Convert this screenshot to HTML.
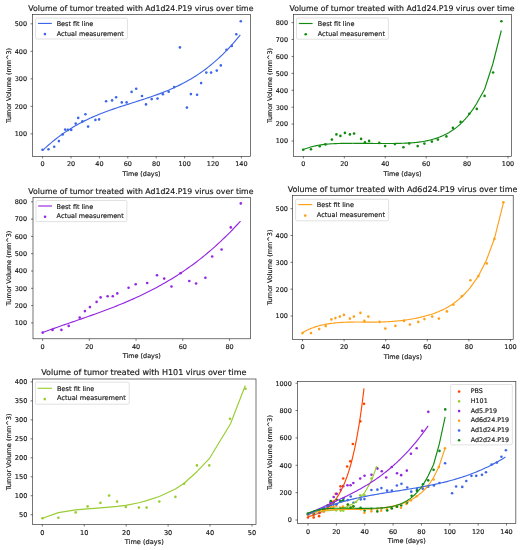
<!DOCTYPE html>
<html lang="en"><head><meta charset="utf-8"><title>Tumor volume over time</title>
<style>html,body{margin:0;padding:0;background:#fff}svg{display:block}text{text-rendering:geometricPrecision;stroke:#1a1a1a;stroke-width:0.17px}</style>
</head><body>
<svg width="521" height="550" viewBox="0 0 521 550" font-family='"DejaVu Sans", "Liberation Sans", sans-serif'>
<rect width="521" height="550" fill="#fff"/>
<rect x="32.5" y="14.5" width="218" height="141.95" fill="#fff" stroke="none"/>
<path d="M42.6,156.45 v1.95 M71,156.45 v1.95 M99.4,156.45 v1.95 M127.8,156.45 v1.95 M156.2,156.45 v1.95 M184.6,156.45 v1.95 M213,156.45 v1.95 M241.4,156.45 v1.95 M32.5,133.9 h-1.95 M32.5,106.38 h-1.95 M32.5,78.86 h-1.95 M32.5,51.34 h-1.95 M32.5,23.82 h-1.95" stroke="#1a1a1a" stroke-width="0.6" fill="none"/>
<g font-size="6.45" fill="#1a1a1a" text-anchor="middle">
<text x="42.6" y="165.8">0</text>
<text x="71" y="165.8">20</text>
<text x="99.4" y="165.8">40</text>
<text x="127.8" y="165.8">60</text>
<text x="156.2" y="165.8">80</text>
<text x="184.6" y="165.8">100</text>
<text x="213" y="165.8">120</text>
<text x="241.4" y="165.8">140</text>
</g>
<g font-size="6.45" fill="#1a1a1a" text-anchor="end">
<text x="27" y="136.25">100</text>
<text x="27" y="108.73">200</text>
<text x="27" y="81.21">300</text>
<text x="27" y="53.69">400</text>
<text x="27" y="26.17">500</text>
</g>
<text x="141.5" y="175.6" font-size="6.45" fill="#1a1a1a" text-anchor="middle">Time (days)</text>
<text transform="translate(11.3,85.47) rotate(-90)" font-size="6.45" fill="#1a1a1a" text-anchor="middle">Tumor Volume (mm^3)</text>
<text x="140.9" y="10.7" font-size="7.78" fill="#1a1a1a" text-anchor="middle">Volume of tumor treated with Ad1d24.P19 virus over time</text>
<g fill="#3d67e6">
<circle cx="42.5" cy="149.8" r="1.3"/>
<circle cx="48.5" cy="149.3" r="1.3"/>
<circle cx="54.2" cy="146.8" r="1.3"/>
<circle cx="58.9" cy="141.1" r="1.3"/>
<circle cx="62.7" cy="134.4" r="1.3"/>
<circle cx="65.2" cy="129.6" r="1.3"/>
<circle cx="67.9" cy="129.9" r="1.3"/>
<circle cx="71.2" cy="129.9" r="1.3"/>
<circle cx="75.7" cy="123.6" r="1.3"/>
<circle cx="78.2" cy="117.9" r="1.3"/>
<circle cx="82.4" cy="121.4" r="1.3"/>
<circle cx="85.4" cy="114.2" r="1.3"/>
<circle cx="88.1" cy="126.6" r="1.3"/>
<circle cx="95.4" cy="119.9" r="1.3"/>
<circle cx="99.1" cy="119.4" r="1.3"/>
<circle cx="106.1" cy="101.2" r="1.3"/>
<circle cx="112.1" cy="100.4" r="1.3"/>
<circle cx="116.1" cy="97.2" r="1.3"/>
<circle cx="121.8" cy="102.4" r="1.3"/>
<circle cx="126.6" cy="102.4" r="1.3"/>
<circle cx="131.6" cy="91.9" r="1.3"/>
<circle cx="136.2" cy="88.7" r="1.3"/>
<circle cx="142" cy="96" r="1.3"/>
<circle cx="146" cy="104.4" r="1.3"/>
<circle cx="151.7" cy="99.1" r="1.3"/>
<circle cx="157.5" cy="98.6" r="1.3"/>
<circle cx="162.9" cy="94.3" r="1.3"/>
<circle cx="168.7" cy="91.8" r="1.3"/>
<circle cx="174.2" cy="87.1" r="1.3"/>
<circle cx="179.9" cy="47.4" r="1.3"/>
<circle cx="186.9" cy="107.6" r="1.3"/>
<circle cx="190.9" cy="94.1" r="1.3"/>
<circle cx="197.1" cy="94.8" r="1.3"/>
<circle cx="201.1" cy="83.1" r="1.3"/>
<circle cx="206.3" cy="72.6" r="1.3"/>
<circle cx="211.1" cy="72.6" r="1.3"/>
<circle cx="216.8" cy="70.6" r="1.3"/>
<circle cx="220.8" cy="65.4" r="1.3"/>
<circle cx="226.5" cy="49.7" r="1.3"/>
<circle cx="231.8" cy="45.9" r="1.3"/>
<circle cx="236.3" cy="34.2" r="1.3"/>
<circle cx="240.8" cy="21.2" r="1.3"/>
</g>
<path d="M42.5,150.57 L44.5,148.67 L46.5,146.83 L48.5,145.05 L50.5,143.32 L52.5,141.64 L54.5,140.01 L56.5,138.43 L58.5,136.9 L60.5,135.42 L62.5,133.99 L64.5,132.6 L66.5,131.25 L68.5,129.95 L70.5,128.68 L72.5,127.46 L74.5,126.28 L76.5,125.13 L78.5,124.02 L80.5,122.94 L82.5,121.89 L84.5,120.88 L86.5,119.9 L88.5,118.95 L90.5,118.02 L92.5,117.13 L94.5,116.25 L96.5,115.41 L98.5,114.58 L100.5,113.78 L102.5,113 L104.5,112.23 L106.5,111.49 L108.5,110.76 L110.5,110.04 L112.5,109.34 L114.5,108.66 L116.5,107.98 L118.5,107.31 L120.5,106.66 L122.5,106.01 L124.5,105.36 L126.5,104.72 L128.5,104.09 L130.5,103.46 L132.5,102.82 L134.5,102.19 L136.5,101.56 L138.5,100.92 L140.5,100.28 L142.5,99.64 L144.5,98.98 L146.5,98.32 L148.5,97.65 L150.5,96.97 L152.5,96.28 L154.5,95.58 L156.5,94.86 L158.5,94.12 L160.5,93.37 L162.5,92.6 L164.5,91.81 L166.5,91 L168.5,90.16 L170.5,89.31 L172.5,88.43 L174.5,87.52 L176.5,86.59 L178.5,85.62 L180.5,84.63 L182.5,83.61 L184.5,82.55 L186.5,81.46 L188.5,80.33 L190.5,79.17 L192.5,77.97 L194.5,76.74 L196.5,75.46 L198.5,74.14 L200.5,72.78 L202.5,71.37 L204.5,69.92 L206.5,68.42 L208.5,66.87 L210.5,65.28 L212.5,63.63 L214.5,61.93 L216.5,60.18 L218.5,58.38 L220.5,56.52 L222.5,54.6 L224.5,52.63 L226.5,50.59 L228.5,48.49 L230.5,46.34 L232.5,44.11 L234.5,41.83 L236.5,39.48 L238.5,37.06 L240.3,34.82" fill="none" stroke="#3d67e6" stroke-width="1.15" stroke-linejoin="round" stroke-linecap="butt"/>
<rect x="32.5" y="14.5" width="218" height="141.95" fill="none" stroke="#1a1a1a" stroke-width="0.6"/>
<rect x="35.6" y="18.1" width="91.8" height="20.9" rx="1.3" fill="#fff" fill-opacity="0.8" stroke="#ccc" stroke-width="0.6"/>
<path d="M38,23.45 H51.8" stroke="#3d67e6" stroke-width="1.15" fill="none"/>
<circle cx="44.9" cy="34.1" r="1.3" fill="#3d67e6"/>
<text x="56.7" y="26.1" font-size="6.45" fill="#1a1a1a">Best fit line</text>
<text x="56.7" y="35.65" font-size="6.45" fill="#1a1a1a">Actual measurement</text>
<rect x="293.5" y="14.5" width="218" height="141.95" fill="#fff" stroke="none"/>
<path d="M303.4,156.45 v1.95 M344.32,156.45 v1.95 M385.24,156.45 v1.95 M426.16,156.45 v1.95 M467.08,156.45 v1.95 M508,156.45 v1.95 M293.5,141 h-1.95 M293.5,124.09 h-1.95 M293.5,107.18 h-1.95 M293.5,90.27 h-1.95 M293.5,73.36 h-1.95 M293.5,56.45 h-1.95 M293.5,39.54 h-1.95 M293.5,22.63 h-1.95" stroke="#1a1a1a" stroke-width="0.6" fill="none"/>
<g font-size="6.45" fill="#1a1a1a" text-anchor="middle">
<text x="303.4" y="165.9">0</text>
<text x="344.32" y="165.9">20</text>
<text x="385.24" y="165.9">40</text>
<text x="426.16" y="165.9">60</text>
<text x="467.08" y="165.9">80</text>
<text x="508" y="165.9">100</text>
</g>
<g font-size="6.45" fill="#1a1a1a" text-anchor="end">
<text x="288" y="143.35">100</text>
<text x="288" y="126.44">200</text>
<text x="288" y="109.53">300</text>
<text x="288" y="92.62">400</text>
<text x="288" y="75.71">500</text>
<text x="288" y="58.8">600</text>
<text x="288" y="41.89">700</text>
<text x="288" y="24.98">800</text>
</g>
<text x="402.5" y="175.5" font-size="6.45" fill="#1a1a1a" text-anchor="middle">Time (days)</text>
<text transform="translate(272.3,85.47) rotate(-90)" font-size="6.45" fill="#1a1a1a" text-anchor="middle">Tumor Volume (mm^3)</text>
<text x="402" y="10.7" font-size="7.78" fill="#1a1a1a" text-anchor="middle">Volume of tumor treated with Ad1d24.P19 virus over time</text>
<g fill="#128a12">
<circle cx="303.2" cy="149.8" r="1.3"/>
<circle cx="311" cy="149.3" r="1.3"/>
<circle cx="319.7" cy="146.3" r="1.3"/>
<circle cx="325.4" cy="144.4" r="1.3"/>
<circle cx="331.9" cy="139.6" r="1.3"/>
<circle cx="336.4" cy="134.4" r="1.3"/>
<circle cx="340.4" cy="135.9" r="1.3"/>
<circle cx="344.9" cy="132.9" r="1.3"/>
<circle cx="349.9" cy="134.4" r="1.3"/>
<circle cx="354.1" cy="133.6" r="1.3"/>
<circle cx="361.1" cy="138.9" r="1.3"/>
<circle cx="364.9" cy="142.4" r="1.3"/>
<circle cx="369.1" cy="140.9" r="1.3"/>
<circle cx="379.3" cy="142.9" r="1.3"/>
<circle cx="385.1" cy="146.1" r="1.3"/>
<circle cx="394.9" cy="144.1" r="1.3"/>
<circle cx="403.4" cy="147.3" r="1.3"/>
<circle cx="409.2" cy="143.4" r="1.3"/>
<circle cx="417.7" cy="146.1" r="1.3"/>
<circle cx="424.4" cy="143.6" r="1.3"/>
<circle cx="431.9" cy="141.6" r="1.3"/>
<circle cx="437.9" cy="139.6" r="1.3"/>
<circle cx="446.4" cy="136.4" r="1.3"/>
<circle cx="452.9" cy="127.9" r="1.3"/>
<circle cx="460.6" cy="121.9" r="1.3"/>
<circle cx="469.3" cy="113.7" r="1.3"/>
<circle cx="476.8" cy="108.9" r="1.3"/>
<circle cx="484.6" cy="95.9" r="1.3"/>
<circle cx="493.1" cy="72.5" r="1.3"/>
<circle cx="501.4" cy="21.2" r="1.3"/>
</g>
<path d="M303.2,149.6 L304.7,149.01 L306.2,148.46 L307.7,147.94 L309.2,147.47 L310.7,147.03 L312.2,146.62 L313.7,146.25 L315.2,145.91 L316.7,145.6 L318.2,145.31 L319.7,145.05 L321.2,144.82 L322.7,144.61 L324.2,144.43 L325.7,144.26 L327.2,144.12 L328.7,143.99 L330.2,143.88 L331.7,143.78 L333.2,143.7 L334.7,143.63 L336.2,143.57 L337.7,143.52 L339.2,143.48 L340.7,143.44 L342.2,143.41 L343.7,143.38 L345.2,143.36 L346.7,143.34 L348.2,143.32 L349.7,143.31 L351.2,143.31 L352.7,143.3 L354.2,143.3 L355.7,143.31 L357.2,143.31 L358.7,143.32 L360.2,143.33 L361.7,143.34 L363.2,143.35 L364.7,143.37 L366.2,143.38 L367.7,143.4 L369.2,143.41 L370.7,143.43 L372.2,143.44 L373.7,143.46 L375.2,143.47 L376.7,143.48 L378.2,143.5 L379.7,143.51 L381.2,143.51 L382.7,143.52 L384.2,143.53 L385.7,143.53 L387.2,143.53 L388.7,143.52 L390.2,143.51 L391.7,143.5 L393.2,143.48 L394.7,143.46 L396.2,143.44 L397.7,143.41 L399.2,143.38 L400.7,143.34 L402.2,143.29 L403.7,143.24 L405.2,143.18 L406.7,143.12 L408.2,143.04 L409.7,142.95 L411.2,142.85 L412.7,142.74 L414.2,142.62 L415.7,142.47 L417.2,142.31 L418.7,142.14 L420.2,141.94 L421.7,141.72 L423.2,141.48 L424.7,141.21 L426.2,140.92 L427.7,140.61 L429.2,140.27 L430.7,139.9 L432.2,139.49 L433.7,139.06 L435.2,138.6 L436.7,138.1 L438.2,137.57 L439.7,137 L441.2,136.39 L442.7,135.74 L444.2,135.05 L445.7,134.32 L447.2,133.53 L448.7,132.69 L450.2,131.8 L451.7,130.84 L453.2,129.83 L454.7,128.75 L456.2,127.6 L457.7,126.38 L459.2,125.08 L460.7,123.71 L462.2,122.26 L463.7,120.73 L465.2,119.11 L466.7,117.4 L468.2,115.59 L469.7,113.7 L471.2,111.7 L472.7,109.6 L474.2,107.39 L475.7,105.08 L476.8,103.3 L484.6,89.3 L492.8,64 L501.3,30.5" fill="none" stroke="#128a12" stroke-width="1.15" stroke-linejoin="round" stroke-linecap="butt"/>
<rect x="293.5" y="14.5" width="218" height="141.95" fill="none" stroke="#1a1a1a" stroke-width="0.6"/>
<rect x="296.5" y="18" width="91.9" height="21.2" rx="1.3" fill="#fff" fill-opacity="0.8" stroke="#ccc" stroke-width="0.6"/>
<path d="M298.8,23.5 H312.6" stroke="#128a12" stroke-width="1.15" fill="none"/>
<circle cx="305.7" cy="34.2" r="1.3" fill="#128a12"/>
<text x="317.8" y="26.1" font-size="6.45" fill="#1a1a1a">Best fit line</text>
<text x="317.8" y="35.6" font-size="6.45" fill="#1a1a1a">Actual measurement</text>
<rect x="33" y="197.5" width="217.5" height="141.3" fill="#fff" stroke="none"/>
<path d="M42.6,338.8 v1.95 M89.32,338.8 v1.95 M136.04,338.8 v1.95 M182.76,338.8 v1.95 M229.48,338.8 v1.95 M33,322.9 h-1.95 M33,305.6 h-1.95 M33,288.3 h-1.95 M33,271 h-1.95 M33,253.7 h-1.95 M33,236.4 h-1.95 M33,219.1 h-1.95 M33,201.8 h-1.95" stroke="#1a1a1a" stroke-width="0.6" fill="none"/>
<g font-size="6.45" fill="#1a1a1a" text-anchor="middle">
<text x="42.6" y="348.5">0</text>
<text x="89.32" y="348.5">20</text>
<text x="136.04" y="348.5">40</text>
<text x="182.76" y="348.5">60</text>
<text x="229.48" y="348.5">80</text>
</g>
<g font-size="6.45" fill="#1a1a1a" text-anchor="end">
<text x="27" y="325.25">100</text>
<text x="27" y="307.95">200</text>
<text x="27" y="290.65">300</text>
<text x="27" y="273.35">400</text>
<text x="27" y="256.05">500</text>
<text x="27" y="238.75">600</text>
<text x="27" y="221.45">700</text>
<text x="27" y="204.15">800</text>
</g>
<text x="141.75" y="357.7" font-size="6.45" fill="#1a1a1a" text-anchor="middle">Time (days)</text>
<text transform="translate(11.3,268.15) rotate(-90)" font-size="6.45" fill="#1a1a1a" text-anchor="middle">Tumor Volume (mm^3)</text>
<text x="140.9" y="194" font-size="7.78" fill="#1a1a1a" text-anchor="middle">Volume of tumor treated with Ad1d24.P19 virus over time</text>
<g fill="#9426e2">
<circle cx="42.7" cy="332.6" r="1.3"/>
<circle cx="52.5" cy="329.9" r="1.3"/>
<circle cx="61.4" cy="329.9" r="1.3"/>
<circle cx="68.7" cy="325.9" r="1.3"/>
<circle cx="79.7" cy="317.6" r="1.3"/>
<circle cx="84.9" cy="311.1" r="1.3"/>
<circle cx="89.9" cy="307.1" r="1.3"/>
<circle cx="96.6" cy="301.9" r="1.3"/>
<circle cx="100.6" cy="297.4" r="1.3"/>
<circle cx="107.6" cy="296.2" r="1.3"/>
<circle cx="112.8" cy="296.2" r="1.3"/>
<circle cx="117.3" cy="293.4" r="1.3"/>
<circle cx="128.6" cy="287.7" r="1.3"/>
<circle cx="135.7" cy="284.3" r="1.3"/>
<circle cx="147.2" cy="283" r="1.3"/>
<circle cx="157" cy="275.2" r="1.3"/>
<circle cx="164.2" cy="278.6" r="1.3"/>
<circle cx="171.5" cy="286.5" r="1.3"/>
<circle cx="180.5" cy="273.2" r="1.3"/>
<circle cx="189.3" cy="281" r="1.3"/>
<circle cx="196.1" cy="283.5" r="1.3"/>
<circle cx="205.4" cy="277.7" r="1.3"/>
<circle cx="212.2" cy="256.5" r="1.3"/>
<circle cx="221.6" cy="249.5" r="1.3"/>
<circle cx="230.8" cy="227.4" r="1.3"/>
<circle cx="240.8" cy="203.4" r="1.3"/>
</g>
<path d="M42.7,332.45 L44.7,331.72 L46.7,330.99 L48.7,330.27 L50.7,329.55 L52.7,328.84 L54.7,328.13 L56.7,327.43 L58.7,326.73 L60.7,326.03 L62.7,325.33 L64.7,324.64 L66.7,323.95 L68.7,323.26 L70.7,322.56 L72.7,321.87 L74.7,321.18 L76.7,320.49 L78.7,319.8 L80.7,319.11 L82.7,318.41 L84.7,317.71 L86.7,317.01 L88.7,316.31 L90.7,315.6 L92.7,314.89 L94.7,314.17 L96.7,313.45 L98.7,312.73 L100.7,311.99 L102.7,311.26 L104.7,310.51 L106.7,309.76 L108.7,309 L110.7,308.23 L112.7,307.46 L114.7,306.67 L116.7,305.88 L118.7,305.08 L120.7,304.26 L122.7,303.44 L124.7,302.6 L126.7,301.76 L128.7,300.9 L130.7,300.03 L132.7,299.15 L134.7,298.25 L136.7,297.34 L138.7,296.42 L140.7,295.48 L142.7,294.53 L144.7,293.57 L146.7,292.58 L148.7,291.58 L150.7,290.57 L152.7,289.54 L154.7,288.49 L156.7,287.42 L158.7,286.33 L160.7,285.23 L162.7,284.11 L164.7,282.96 L166.7,281.8 L168.7,280.62 L170.7,279.42 L172.7,278.19 L174.7,276.95 L176.7,275.68 L178.7,274.39 L180.7,273.07 L182.7,271.74 L184.7,270.38 L186.7,268.99 L188.7,267.58 L190.7,266.15 L192.7,264.69 L194.7,263.2 L196.7,261.69 L198.7,260.15 L200.7,258.58 L202.7,256.99 L204.7,255.37 L206.7,253.72 L208.7,252.04 L210.7,250.33 L212.7,248.59 L214.7,246.82 L216.7,245.02 L218.7,243.19 L220.7,241.33 L222.7,239.44 L224.7,237.51 L226.7,235.56 L228.7,233.56 L230.7,231.54 L232.7,229.48 L234.7,227.39 L236.7,225.26 L238.7,223.09 L240.5,221.12" fill="none" stroke="#9426e2" stroke-width="1.15" stroke-linejoin="round" stroke-linecap="butt"/>
<rect x="33" y="197.5" width="217.5" height="141.3" fill="none" stroke="#1a1a1a" stroke-width="0.6"/>
<rect x="36" y="200.5" width="90.9" height="21.1" rx="1.3" fill="#fff" fill-opacity="0.8" stroke="#ccc" stroke-width="0.6"/>
<path d="M38.2,206 H51.9" stroke="#9426e2" stroke-width="1.15" fill="none"/>
<circle cx="45.05" cy="216.7" r="1.3" fill="#9426e2"/>
<text x="56.6" y="208.7" font-size="6.45" fill="#1a1a1a">Best fit line</text>
<text x="56.6" y="218.4" font-size="6.45" fill="#1a1a1a">Actual measurement</text>
<rect x="292.5" y="195.5" width="220.7" height="143.8" fill="#fff" stroke="none"/>
<path d="M302.5,339.3 v1.95 M344.1,339.3 v1.95 M385.7,339.3 v1.95 M427.3,339.3 v1.95 M468.9,339.3 v1.95 M510.5,339.3 v1.95 M292.5,316 h-1.95 M292.5,289.17 h-1.95 M292.5,262.34 h-1.95 M292.5,235.51 h-1.95 M292.5,208.68 h-1.95" stroke="#1a1a1a" stroke-width="0.6" fill="none"/>
<g font-size="6.5" fill="#1a1a1a" text-anchor="middle">
<text x="302.5" y="349.4">0</text>
<text x="344.1" y="349.4">20</text>
<text x="385.7" y="349.4">40</text>
<text x="427.3" y="349.4">60</text>
<text x="468.9" y="349.4">80</text>
<text x="510.5" y="349.4">100</text>
</g>
<g font-size="6.5" fill="#1a1a1a" text-anchor="end">
<text x="288" y="318.37">100</text>
<text x="288" y="291.54">200</text>
<text x="288" y="264.71">300</text>
<text x="288" y="237.88">400</text>
<text x="288" y="211.05">500</text>
</g>
<text x="402.85" y="358.6" font-size="6.5" fill="#1a1a1a" text-anchor="middle">Time (days)</text>
<text transform="translate(271.9,267.4) rotate(-90)" font-size="6.5" fill="#1a1a1a" text-anchor="middle">Tumor Volume (mm^3)</text>
<text x="402.5" y="192.1" font-size="7.93" fill="#1a1a1a" text-anchor="middle">Volume of tumor treated with Ad6d24.P19 virus over time</text>
<g fill="#ffa01a">
<circle cx="302.5" cy="333.1" r="1.3"/>
<circle cx="311" cy="333.1" r="1.3"/>
<circle cx="319.2" cy="329.1" r="1.3"/>
<circle cx="325.7" cy="326.1" r="1.3"/>
<circle cx="331.4" cy="319.4" r="1.3"/>
<circle cx="335.4" cy="318.1" r="1.3"/>
<circle cx="339.9" cy="316.6" r="1.3"/>
<circle cx="343.9" cy="314.9" r="1.3"/>
<circle cx="349.9" cy="318.6" r="1.3"/>
<circle cx="353.9" cy="316.6" r="1.3"/>
<circle cx="360.4" cy="312.9" r="1.3"/>
<circle cx="364.4" cy="320.9" r="1.3"/>
<circle cx="368.3" cy="316.6" r="1.3"/>
<circle cx="379.6" cy="321.9" r="1.3"/>
<circle cx="385.3" cy="328.6" r="1.3"/>
<circle cx="395.4" cy="325.9" r="1.3"/>
<circle cx="404.1" cy="320.9" r="1.3"/>
<circle cx="409.9" cy="324.6" r="1.3"/>
<circle cx="418.3" cy="321.9" r="1.3"/>
<circle cx="424.4" cy="319.1" r="1.3"/>
<circle cx="432.2" cy="316.6" r="1.3"/>
<circle cx="438.9" cy="318.6" r="1.3"/>
<circle cx="446.9" cy="311.4" r="1.3"/>
<circle cx="453.4" cy="304.7" r="1.3"/>
<circle cx="461.9" cy="296.2" r="1.3"/>
<circle cx="470.4" cy="280.3" r="1.3"/>
<circle cx="478.4" cy="276.1" r="1.3"/>
<circle cx="486.7" cy="263.4" r="1.3"/>
<circle cx="494.4" cy="238.9" r="1.3"/>
<circle cx="503.4" cy="202.3" r="1.3"/>
</g>
<path d="M302.5,332.75 L304,331.87 L305.5,331.04 L307,330.26 L308.5,329.54 L310,328.87 L311.5,328.25 L313,327.67 L314.5,327.13 L316,326.64 L317.5,326.18 L319,325.76 L320.5,325.38 L322,325.02 L323.5,324.7 L325,324.4 L326.5,324.13 L328,323.88 L329.5,323.65 L331,323.44 L332.5,323.24 L334,323.07 L335.5,322.91 L337,322.77 L338.5,322.65 L340,322.54 L341.5,322.44 L343,322.35 L344.5,322.28 L346,322.22 L347.5,322.17 L349,322.13 L350.5,322.1 L352,322.08 L353.5,322.06 L355,322.05 L356.5,322.04 L358,322.04 L359.5,322.04 L361,322.05 L362.5,322.06 L364,322.06 L365.5,322.07 L367,322.08 L368.5,322.09 L370,322.09 L371.5,322.09 L373,322.09 L374.5,322.08 L376,322.07 L377.5,322.05 L379,322.03 L380.5,321.99 L382,321.95 L383.5,321.9 L385,321.84 L386.5,321.78 L388,321.7 L389.5,321.61 L391,321.52 L392.5,321.41 L394,321.3 L395.5,321.17 L397,321.04 L398.5,320.89 L400,320.73 L401.5,320.56 L403,320.38 L404.5,320.18 L406,319.98 L407.5,319.75 L409,319.52 L410.5,319.27 L412,319.01 L413.5,318.74 L415,318.45 L416.5,318.14 L418,317.82 L419.5,317.49 L421,317.14 L422.5,316.77 L424,316.39 L425.5,315.99 L427,315.57 L428.5,315.14 L430,314.69 L431.5,314.22 L433,313.72 L434.5,313.2 L436,312.65 L437.5,312.07 L439,311.46 L440.5,310.81 L442,310.13 L443.5,309.41 L445,308.65 L446.5,307.84 L448,306.99 L449.5,306.09 L451,305.15 L452.5,304.15 L454,303.09 L455.5,301.98 L457,300.81 L458.5,299.58 L460,298.29 L461.5,296.93 L463,295.51 L464.5,294.01 L466,292.44 L467.5,290.8 L469,289.08 L470.4,287.4 L478.4,276.1 L486.5,260 L494.4,238.8 L503.4,202.9" fill="none" stroke="#ffa01a" stroke-width="1.15" stroke-linejoin="round" stroke-linecap="butt"/>
<rect x="292.5" y="195.5" width="220.7" height="143.8" fill="none" stroke="#1a1a1a" stroke-width="0.6"/>
<rect x="295.6" y="199.2" width="93" height="21.6" rx="1.3" fill="#fff" fill-opacity="0.8" stroke="#ccc" stroke-width="0.6"/>
<path d="M298.2,204.6 H312.2" stroke="#ffa01a" stroke-width="1.15" fill="none"/>
<circle cx="305.2" cy="215.6" r="1.3" fill="#ffa01a"/>
<text x="316.8" y="207.3" font-size="6.55" fill="#1a1a1a">Best fit line</text>
<text x="316.8" y="217" font-size="6.55" fill="#1a1a1a">Actual measurement</text>
<rect x="32.5" y="379" width="223.5" height="145.6" fill="#fff" stroke="none"/>
<path d="M42.3,524.6 v1.95 M84.24,524.6 v1.95 M126.18,524.6 v1.95 M168.12,524.6 v1.95 M210.06,524.6 v1.95 M252,524.6 v1.95 M32.5,514.7 h-1.95 M32.5,495.73 h-1.95 M32.5,476.76 h-1.95 M32.5,457.79 h-1.95 M32.5,438.82 h-1.95 M32.5,419.85 h-1.95 M32.5,400.88 h-1.95 M32.5,381.91 h-1.95" stroke="#1a1a1a" stroke-width="0.6" fill="none"/>
<g font-size="6.6" fill="#1a1a1a" text-anchor="middle">
<text x="42.3" y="535.3">0</text>
<text x="84.24" y="535.3">10</text>
<text x="126.18" y="535.3">20</text>
<text x="168.12" y="535.3">30</text>
<text x="210.06" y="535.3">40</text>
<text x="252" y="535.3">50</text>
</g>
<g font-size="6.6" fill="#1a1a1a" text-anchor="end">
<text x="27.4" y="517.11">50</text>
<text x="27.4" y="498.14">100</text>
<text x="27.4" y="479.17">150</text>
<text x="27.4" y="460.2">200</text>
<text x="27.4" y="441.23">250</text>
<text x="27.4" y="422.26">300</text>
<text x="27.4" y="403.29">350</text>
<text x="27.4" y="384.32">400</text>
</g>
<text x="144.25" y="544.2" font-size="6.6" fill="#1a1a1a" text-anchor="middle">Time (days)</text>
<text transform="translate(11.3,451.8) rotate(-90)" font-size="6.6" fill="#1a1a1a" text-anchor="middle">Tumor Volume (mm^3)</text>
<text x="143.8" y="375.2" font-size="8.03" fill="#1a1a1a" text-anchor="middle">Volume of tumor treated with H101 virus over time</text>
<g fill="#9acd32">
<circle cx="42.5" cy="518.3" r="1.3"/>
<circle cx="58.4" cy="517.8" r="1.3"/>
<circle cx="75.7" cy="512.4" r="1.3"/>
<circle cx="87.6" cy="506.4" r="1.3"/>
<circle cx="100.4" cy="502.9" r="1.3"/>
<circle cx="109.1" cy="495.6" r="1.3"/>
<circle cx="117.1" cy="501.6" r="1.3"/>
<circle cx="125.8" cy="506.9" r="1.3"/>
<circle cx="138.9" cy="507.6" r="1.3"/>
<circle cx="146.6" cy="507.6" r="1.3"/>
<circle cx="159.3" cy="501.6" r="1.3"/>
<circle cx="175.4" cy="496.9" r="1.3"/>
<circle cx="184.1" cy="483.7" r="1.3"/>
<circle cx="196.9" cy="465.4" r="1.3"/>
<circle cx="209.3" cy="465.4" r="1.3"/>
<circle cx="230" cy="418.7" r="1.3"/>
<circle cx="245.5" cy="388.7" r="1.3"/>
</g>
<path d="M42.5,518.3 L58.4,512.6 L75.7,509.9 L87.6,508.9 L100.4,507.9 L109.1,507.1 L117.1,506.4 L125.8,505.4 L138.9,502.7 L146.6,500.6 L159.3,496.5 L175.4,488.9 L184.1,483.2 L196.9,471.7 L209.3,458.7 L230.5,423.7 L245.3,385.5" fill="none" stroke="#9acd32" stroke-width="1.15" stroke-linejoin="round" stroke-linecap="butt"/>
<rect x="32.5" y="379" width="223.5" height="145.6" fill="none" stroke="#1a1a1a" stroke-width="0.6"/>
<rect x="35.4" y="382.2" width="93.8" height="22" rx="1.3" fill="#fff" fill-opacity="0.8" stroke="#ccc" stroke-width="0.6"/>
<path d="M37.6,388.3 H51.9" stroke="#9acd32" stroke-width="1.15" fill="none"/>
<circle cx="44.75" cy="399.1" r="1.3" fill="#9acd32"/>
<text x="57" y="390.8" font-size="6.6" fill="#1a1a1a">Best fit line</text>
<text x="57" y="400.4" font-size="6.6" fill="#1a1a1a">Actual measurement</text>
<rect x="297.5" y="381.5" width="218.35" height="142.1" fill="#fff" stroke="none"/>
<path d="M308,523.6 v1.95 M336.36,523.6 v1.95 M364.72,523.6 v1.95 M393.08,523.6 v1.95 M421.44,523.6 v1.95 M449.8,523.6 v1.95 M478.16,523.6 v1.95 M506.52,523.6 v1.95 M297.5,520 h-1.95 M297.5,492.64 h-1.95 M297.5,465.28 h-1.95 M297.5,437.92 h-1.95 M297.5,410.56 h-1.95 M297.5,383.2 h-1.95" stroke="#1a1a1a" stroke-width="0.6" fill="none"/>
<g font-size="6.45" fill="#1a1a1a" text-anchor="middle">
<text x="308" y="534">0</text>
<text x="336.36" y="534">20</text>
<text x="364.72" y="534">40</text>
<text x="393.08" y="534">60</text>
<text x="421.44" y="534">80</text>
<text x="449.8" y="534">100</text>
<text x="478.16" y="534">120</text>
<text x="506.52" y="534">140</text>
</g>
<g font-size="6.45" fill="#1a1a1a" text-anchor="end">
<text x="291.8" y="522.35">0</text>
<text x="291.8" y="494.99">200</text>
<text x="291.8" y="467.63">400</text>
<text x="291.8" y="440.27">600</text>
<text x="291.8" y="412.91">800</text>
<text x="291.8" y="385.55">1000</text>
</g>
<text x="406.68" y="543.2" font-size="6.45" fill="#1a1a1a" text-anchor="middle">Time (days)</text>
<text transform="translate(272.2,452.55) rotate(-90)" font-size="6.45" fill="#1a1a1a" text-anchor="middle">Tumor Volume (mm^3)</text>
<g fill="#ff4500">
<circle cx="308" cy="517.54" r="1.3"/>
<circle cx="313.67" cy="517.4" r="1.3"/>
<circle cx="319.06" cy="516.17" r="1.3"/>
<circle cx="323.6" cy="511.52" r="1.3"/>
<circle cx="327.85" cy="507.96" r="1.3"/>
<circle cx="330.69" cy="505.23" r="1.3"/>
<circle cx="333.52" cy="501.53" r="1.3"/>
<circle cx="335.79" cy="493.87" r="1.3"/>
<circle cx="340.47" cy="486.35" r="1.3"/>
<circle cx="343.17" cy="478.55" r="1.3"/>
<circle cx="347.14" cy="466.51" r="1.3"/>
<circle cx="350.26" cy="461.18" r="1.3"/>
<circle cx="352.81" cy="443.94" r="1.3"/>
<circle cx="360.32" cy="421.37" r="1.3"/>
<circle cx="364.01" cy="403.86" r="1.3"/>
</g>
<g fill="#9acd32">
<circle cx="308.07" cy="514.46" r="1.3"/>
<circle cx="313.44" cy="514.28" r="1.3"/>
<circle cx="319.29" cy="512.33" r="1.3"/>
<circle cx="323.32" cy="510.17" r="1.3"/>
<circle cx="327.64" cy="508.91" r="1.3"/>
<circle cx="330.59" cy="506.27" r="1.3"/>
<circle cx="333.29" cy="508.44" r="1.3"/>
<circle cx="336.23" cy="510.35" r="1.3"/>
<circle cx="340.66" cy="510.6" r="1.3"/>
<circle cx="343.26" cy="510.6" r="1.3"/>
<circle cx="347.56" cy="508.44" r="1.3"/>
<circle cx="353" cy="506.74" r="1.3"/>
<circle cx="355.94" cy="501.98" r="1.3"/>
<circle cx="360.27" cy="495.38" r="1.3"/>
<circle cx="364.46" cy="495.38" r="1.3"/>
<circle cx="371.46" cy="478.55" r="1.3"/>
<circle cx="376.7" cy="467.73" r="1.3"/>
</g>
<g fill="#9426e2">
<circle cx="308.06" cy="513.99" r="1.3"/>
<circle cx="314.01" cy="511.86" r="1.3"/>
<circle cx="319.41" cy="511.86" r="1.3"/>
<circle cx="323.84" cy="508.69" r="1.3"/>
<circle cx="330.52" cy="502.13" r="1.3"/>
<circle cx="333.68" cy="496.99" r="1.3"/>
<circle cx="336.71" cy="493.83" r="1.3"/>
<circle cx="340.78" cy="489.71" r="1.3"/>
<circle cx="343.21" cy="486.16" r="1.3"/>
<circle cx="347.46" cy="485.21" r="1.3"/>
<circle cx="350.61" cy="485.21" r="1.3"/>
<circle cx="353.34" cy="482.99" r="1.3"/>
<circle cx="360.2" cy="478.49" r="1.3"/>
<circle cx="364.51" cy="475.8" r="1.3"/>
<circle cx="371.49" cy="474.77" r="1.3"/>
<circle cx="377.44" cy="468.6" r="1.3"/>
<circle cx="381.81" cy="471.29" r="1.3"/>
<circle cx="386.24" cy="477.54" r="1.3"/>
<circle cx="391.71" cy="467.02" r="1.3"/>
<circle cx="397.05" cy="473.19" r="1.3"/>
<circle cx="401.18" cy="475.16" r="1.3"/>
<circle cx="406.82" cy="470.58" r="1.3"/>
<circle cx="410.95" cy="453.81" r="1.3"/>
<circle cx="416.66" cy="448.28" r="1.3"/>
<circle cx="422.24" cy="430.8" r="1.3"/>
<circle cx="428.31" cy="411.83" r="1.3"/>
</g>
<g fill="#ffa01a">
<circle cx="308" cy="515.04" r="1.3"/>
<circle cx="313.79" cy="515.04" r="1.3"/>
<circle cx="319.38" cy="513" r="1.3"/>
<circle cx="323.82" cy="511.47" r="1.3"/>
<circle cx="327.7" cy="508.05" r="1.3"/>
<circle cx="330.43" cy="507.39" r="1.3"/>
<circle cx="333.5" cy="506.63" r="1.3"/>
<circle cx="336.22" cy="505.76" r="1.3"/>
<circle cx="340.31" cy="507.65" r="1.3"/>
<circle cx="343.04" cy="506.63" r="1.3"/>
<circle cx="347.47" cy="504.74" r="1.3"/>
<circle cx="350.2" cy="508.82" r="1.3"/>
<circle cx="352.86" cy="506.63" r="1.3"/>
<circle cx="360.56" cy="509.33" r="1.3"/>
<circle cx="364.45" cy="512.74" r="1.3"/>
<circle cx="371.33" cy="511.37" r="1.3"/>
<circle cx="377.26" cy="508.82" r="1.3"/>
<circle cx="381.22" cy="510.7" r="1.3"/>
<circle cx="386.94" cy="509.33" r="1.3"/>
<circle cx="391.1" cy="507.9" r="1.3"/>
<circle cx="396.42" cy="506.63" r="1.3"/>
<circle cx="400.99" cy="507.65" r="1.3"/>
<circle cx="406.44" cy="503.97" r="1.3"/>
<circle cx="410.87" cy="500.56" r="1.3"/>
<circle cx="416.67" cy="496.22" r="1.3"/>
<circle cx="422.46" cy="488.12" r="1.3"/>
<circle cx="427.92" cy="485.98" r="1.3"/>
<circle cx="433.57" cy="479.5" r="1.3"/>
<circle cx="438.82" cy="467.01" r="1.3"/>
<circle cx="444.96" cy="448.35" r="1.3"/>
</g>
<g fill="#3d67e6">
<circle cx="307.9" cy="514.22" r="1.3"/>
<circle cx="313.89" cy="513.98" r="1.3"/>
<circle cx="319.58" cy="512.73" r="1.3"/>
<circle cx="324.28" cy="509.9" r="1.3"/>
<circle cx="328.07" cy="506.57" r="1.3"/>
<circle cx="330.57" cy="504.18" r="1.3"/>
<circle cx="333.26" cy="504.33" r="1.3"/>
<circle cx="336.56" cy="504.33" r="1.3"/>
<circle cx="341.05" cy="501.2" r="1.3"/>
<circle cx="343.55" cy="498.37" r="1.3"/>
<circle cx="347.74" cy="500.11" r="1.3"/>
<circle cx="350.74" cy="496.53" r="1.3"/>
<circle cx="353.44" cy="502.69" r="1.3"/>
<circle cx="360.73" cy="499.36" r="1.3"/>
<circle cx="364.42" cy="499.11" r="1.3"/>
<circle cx="371.41" cy="490.07" r="1.3"/>
<circle cx="377.4" cy="489.67" r="1.3"/>
<circle cx="381.4" cy="488.08" r="1.3"/>
<circle cx="387.09" cy="490.66" r="1.3"/>
<circle cx="391.88" cy="490.66" r="1.3"/>
<circle cx="396.87" cy="485.44" r="1.3"/>
<circle cx="401.47" cy="483.85" r="1.3"/>
<circle cx="407.26" cy="487.48" r="1.3"/>
<circle cx="411.25" cy="491.66" r="1.3"/>
<circle cx="416.95" cy="489.02" r="1.3"/>
<circle cx="422.74" cy="488.77" r="1.3"/>
<circle cx="428.13" cy="486.64" r="1.3"/>
<circle cx="433.92" cy="485.39" r="1.3"/>
<circle cx="439.41" cy="483.06" r="1.3"/>
<circle cx="445.11" cy="463.32" r="1.3"/>
<circle cx="452.1" cy="493.25" r="1.3"/>
<circle cx="456.09" cy="486.54" r="1.3"/>
<circle cx="462.28" cy="486.88" r="1.3"/>
<circle cx="466.28" cy="481.07" r="1.3"/>
<circle cx="471.47" cy="475.85" r="1.3"/>
<circle cx="476.26" cy="475.85" r="1.3"/>
<circle cx="481.95" cy="474.85" r="1.3"/>
<circle cx="485.95" cy="472.27" r="1.3"/>
<circle cx="491.64" cy="464.46" r="1.3"/>
<circle cx="496.93" cy="462.58" r="1.3"/>
<circle cx="501.43" cy="456.76" r="1.3"/>
<circle cx="505.92" cy="450.3" r="1.3"/>
</g>
<g fill="#128a12">
<circle cx="307.86" cy="513.44" r="1.3"/>
<circle cx="313.27" cy="513.03" r="1.3"/>
<circle cx="319.3" cy="510.61" r="1.3"/>
<circle cx="323.25" cy="509.07" r="1.3"/>
<circle cx="327.75" cy="505.19" r="1.3"/>
<circle cx="330.87" cy="500.98" r="1.3"/>
<circle cx="333.64" cy="502.19" r="1.3"/>
<circle cx="336.76" cy="499.77" r="1.3"/>
<circle cx="340.23" cy="500.98" r="1.3"/>
<circle cx="343.14" cy="500.33" r="1.3"/>
<circle cx="347.99" cy="504.62" r="1.3"/>
<circle cx="350.62" cy="507.45" r="1.3"/>
<circle cx="353.53" cy="506.24" r="1.3"/>
<circle cx="360.6" cy="507.86" r="1.3"/>
<circle cx="364.62" cy="510.45" r="1.3"/>
<circle cx="371.41" cy="508.83" r="1.3"/>
<circle cx="377.31" cy="511.42" r="1.3"/>
<circle cx="381.33" cy="508.26" r="1.3"/>
<circle cx="387.22" cy="510.45" r="1.3"/>
<circle cx="391.86" cy="508.42" r="1.3"/>
<circle cx="397.06" cy="506.81" r="1.3"/>
<circle cx="401.22" cy="505.19" r="1.3"/>
<circle cx="407.11" cy="502.6" r="1.3"/>
<circle cx="411.61" cy="495.72" r="1.3"/>
<circle cx="416.95" cy="490.87" r="1.3"/>
<circle cx="422.98" cy="484.23" r="1.3"/>
<circle cx="428.18" cy="480.35" r="1.3"/>
<circle cx="433.58" cy="469.83" r="1.3"/>
<circle cx="439.47" cy="450.9" r="1.3"/>
<circle cx="445.23" cy="409.4" r="1.3"/>
</g>
<path d="M308,516.58 L308.71,516.42 L309.42,516.25 L310.13,516.07 L310.84,515.89 L311.55,515.69 L312.25,515.49 L312.96,515.27 L313.67,515.05 L314.38,514.82 L315.09,514.57 L315.8,514.31 L316.51,514.05 L317.22,513.76 L317.93,513.47 L318.63,513.16 L319.34,512.84 L320.05,512.5 L320.76,512.14 L321.47,511.77 L322.18,511.38 L322.89,510.98 L323.6,510.55 L324.31,510.1 L325.02,509.63 L325.73,509.14 L326.43,508.63 L327.14,508.09 L327.85,507.53 L328.56,506.94 L329.27,506.32 L329.98,505.68 L330.69,505 L331.4,504.29 L332.11,503.55 L332.81,502.77 L333.52,501.96 L334.23,501.1 L334.94,500.21 L335.65,499.27 L336.36,498.29 L337.07,497.27 L337.78,496.19 L338.49,495.07 L339.2,493.89 L339.9,492.65 L340.61,491.36 L341.32,490 L342.03,488.59 L342.74,487.1 L343.45,485.55 L344.16,483.92 L344.87,482.21 L345.58,480.42 L346.29,478.55 L347,476.59 L347.7,474.54 L348.41,472.39 L349.12,470.14 L349.83,467.78 L350.54,465.31 L351.25,462.73 L351.96,460.02 L352.67,457.18 L353.38,454.21 L354.08,451.1 L354.79,447.84 L355.5,444.43 L356.21,440.86 L356.92,437.12 L357.63,433.2 L358.34,429.09 L359.05,424.79 L359.76,420.29 L360.47,415.58 L361.18,410.64 L361.88,405.47 L362.59,400.05 L363.3,394.38 L364.01,388.44" fill="none" stroke="#ff4500" stroke-width="1.15" stroke-linejoin="round" stroke-linecap="butt"/>
<path d="M308.07,514.46 L313.44,512.4 L319.29,511.43 L323.32,511.07 L327.64,510.71 L330.59,510.42 L333.29,510.17 L336.23,509.81 L340.66,508.83 L343.26,508.08 L347.56,506.6 L353,503.86 L355.94,501.8 L360.27,497.66 L364.46,492.97 L371.63,480.35 L376.63,466.57" fill="none" stroke="#9acd32" stroke-width="1.15" stroke-linejoin="round" stroke-linecap="butt"/>
<path d="M308.06,513.87 L309.27,513.29 L310.49,512.72 L311.7,512.15 L312.92,511.58 L314.13,511.02 L315.34,510.46 L316.56,509.9 L317.77,509.35 L318.99,508.79 L320.2,508.24 L321.42,507.7 L322.63,507.15 L323.84,506.6 L325.06,506.06 L326.27,505.51 L327.49,504.96 L328.7,504.42 L329.91,503.87 L331.13,503.32 L332.34,502.77 L333.56,502.22 L334.77,501.66 L335.98,501.11 L337.2,500.55 L338.41,499.99 L339.63,499.42 L340.84,498.85 L342.05,498.27 L343.27,497.7 L344.48,497.11 L345.7,496.52 L346.91,495.93 L348.12,495.33 L349.34,494.72 L350.55,494.11 L351.77,493.49 L352.98,492.86 L354.19,492.23 L355.41,491.58 L356.62,490.93 L357.84,490.27 L359.05,489.6 L360.26,488.92 L361.48,488.24 L362.69,487.54 L363.91,486.83 L365.12,486.11 L366.33,485.38 L367.55,484.64 L368.76,483.89 L369.98,483.12 L371.19,482.35 L372.4,481.56 L373.62,480.75 L374.83,479.94 L376.05,479.11 L377.26,478.26 L378.48,477.41 L379.69,476.53 L380.9,475.64 L382.12,474.74 L383.33,473.82 L384.55,472.89 L385.76,471.94 L386.97,470.97 L388.19,469.98 L389.4,468.98 L390.62,467.96 L391.83,466.92 L393.04,465.86 L394.26,464.79 L395.47,463.69 L396.69,462.58 L397.9,461.44 L399.11,460.29 L400.33,459.11 L401.54,457.92 L402.76,456.7 L403.97,455.46 L405.18,454.2 L406.4,452.92 L407.61,451.61 L408.83,450.29 L410.04,448.94 L411.25,447.56 L412.47,446.16 L413.68,444.74 L414.9,443.29 L416.11,441.82 L417.32,440.32 L418.54,438.8 L419.75,437.25 L420.97,435.68 L422.18,434.08 L423.39,432.45 L424.61,430.79 L425.82,429.11 L427.04,427.4 L428.13,425.83" fill="none" stroke="#9426e2" stroke-width="1.15" stroke-linejoin="round" stroke-linecap="butt"/>
<path d="M308,514.86 L309.02,514.41 L310.05,513.99 L311.07,513.59 L312.09,513.22 L313.11,512.88 L314.14,512.56 L315.16,512.27 L316.18,512 L317.2,511.74 L318.23,511.51 L319.25,511.3 L320.27,511.1 L321.29,510.92 L322.32,510.76 L323.34,510.6 L324.36,510.46 L325.38,510.34 L326.41,510.22 L327.43,510.11 L328.45,510.01 L329.47,509.92 L330.5,509.84 L331.52,509.77 L332.54,509.71 L333.56,509.65 L334.59,509.6 L335.61,509.56 L336.63,509.52 L337.66,509.49 L338.68,509.47 L339.7,509.45 L340.72,509.43 L341.75,509.42 L342.77,509.41 L343.79,509.4 L344.81,509.4 L345.84,509.4 L346.86,509.4 L347.88,509.4 L348.9,509.41 L349.93,509.41 L350.95,509.42 L351.97,509.42 L352.99,509.42 L354.02,509.43 L355.04,509.43 L356.06,509.43 L357.08,509.42 L358.11,509.42 L359.13,509.41 L360.15,509.39 L361.18,509.38 L362.2,509.35 L363.22,509.33 L364.24,509.3 L365.27,509.26 L366.29,509.23 L367.31,509.18 L368.33,509.13 L369.36,509.08 L370.38,509.02 L371.4,508.96 L372.42,508.89 L373.45,508.81 L374.47,508.73 L375.49,508.65 L376.51,508.55 L377.54,508.45 L378.56,508.35 L379.58,508.23 L380.6,508.12 L381.63,507.99 L382.65,507.86 L383.67,507.72 L384.69,507.57 L385.72,507.41 L386.74,507.25 L387.76,507.08 L388.79,506.9 L389.81,506.71 L390.83,506.52 L391.85,506.32 L392.88,506.1 L393.9,505.88 L394.92,505.65 L395.94,505.41 L396.97,505.16 L397.99,504.89 L399.01,504.61 L400.03,504.32 L401.06,504 L402.08,503.68 L403.1,503.33 L404.12,502.96 L405.15,502.57 L406.17,502.16 L407.19,501.73 L408.21,501.27 L409.24,500.79 L410.26,500.28 L411.28,499.74 L412.3,499.17 L413.33,498.58 L414.35,497.95 L415.37,497.29 L416.4,496.6 L417.42,495.87 L418.44,495.11 L419.46,494.31 L420.49,493.47 L421.51,492.6 L422.46,491.74 L427.92,485.98 L433.44,477.77 L438.82,466.96 L444.96,448.65" fill="none" stroke="#ffa01a" stroke-width="1.15" stroke-linejoin="round" stroke-linecap="butt"/>
<path d="M307.9,514.61 L309.9,513.66 L311.89,512.75 L313.89,511.86 L315.89,511 L317.89,510.17 L319.88,509.36 L321.88,508.57 L323.88,507.81 L325.87,507.08 L327.87,506.36 L329.87,505.67 L331.87,505 L333.86,504.36 L335.86,503.73 L337.86,503.12 L339.86,502.53 L341.85,501.96 L343.85,501.41 L345.85,500.87 L347.84,500.35 L349.84,499.85 L351.84,499.36 L353.84,498.89 L355.83,498.43 L357.83,497.98 L359.83,497.55 L361.82,497.13 L363.82,496.72 L365.82,496.32 L367.82,495.93 L369.81,495.55 L371.81,495.18 L373.81,494.82 L375.8,494.46 L377.8,494.11 L379.8,493.77 L381.8,493.43 L383.79,493.1 L385.79,492.78 L387.79,492.45 L389.78,492.13 L391.78,491.82 L393.78,491.5 L395.78,491.19 L397.77,490.87 L399.77,490.56 L401.77,490.24 L403.76,489.93 L405.76,489.61 L407.76,489.29 L409.76,488.96 L411.75,488.64 L413.75,488.3 L415.75,487.96 L417.75,487.62 L419.74,487.27 L421.74,486.91 L423.74,486.55 L425.73,486.17 L427.73,485.79 L429.73,485.4 L431.73,484.99 L433.72,484.58 L435.72,484.15 L437.72,483.72 L439.71,483.26 L441.71,482.8 L443.71,482.32 L445.71,481.83 L447.7,481.32 L449.7,480.79 L451.7,480.25 L453.69,479.69 L455.69,479.12 L457.69,478.52 L459.69,477.9 L461.68,477.27 L463.68,476.61 L465.68,475.94 L467.67,475.24 L469.67,474.51 L471.67,473.77 L473.67,473 L475.66,472.21 L477.66,471.39 L479.66,470.55 L481.66,469.68 L483.65,468.78 L485.65,467.85 L487.65,466.9 L489.64,465.92 L491.64,464.91 L493.64,463.87 L495.64,462.79 L497.63,461.69 L499.63,460.55 L501.63,459.38 L503.62,458.18 L505.42,457.07" fill="none" stroke="#3d67e6" stroke-width="1.15" stroke-linejoin="round" stroke-linecap="butt"/>
<path d="M307.86,513.28 L308.9,512.8 L309.94,512.35 L310.98,511.94 L312.02,511.55 L313.06,511.2 L314.1,510.87 L315.14,510.57 L316.18,510.29 L317.22,510.04 L318.26,509.81 L319.3,509.6 L320.34,509.41 L321.38,509.24 L322.42,509.09 L323.46,508.96 L324.49,508.84 L325.53,508.74 L326.57,508.65 L327.61,508.57 L328.65,508.51 L329.69,508.45 L330.73,508.4 L331.77,508.36 L332.81,508.32 L333.85,508.29 L334.89,508.27 L335.93,508.25 L336.97,508.23 L338.01,508.21 L339.05,508.2 L340.09,508.19 L341.13,508.19 L342.17,508.18 L343.21,508.18 L344.25,508.19 L345.29,508.19 L346.33,508.2 L347.37,508.2 L348.41,508.21 L349.44,508.22 L350.48,508.23 L351.52,508.25 L352.56,508.26 L353.6,508.27 L354.64,508.28 L355.68,508.3 L356.72,508.31 L357.76,508.32 L358.8,508.33 L359.84,508.34 L360.88,508.35 L361.92,508.35 L362.96,508.36 L364,508.36 L365.04,508.36 L366.08,508.36 L367.12,508.36 L368.16,508.35 L369.2,508.34 L370.24,508.33 L371.28,508.31 L372.32,508.29 L373.36,508.27 L374.4,508.24 L375.43,508.21 L376.47,508.17 L377.51,508.13 L378.55,508.09 L379.59,508.03 L380.63,507.97 L381.67,507.9 L382.71,507.82 L383.75,507.73 L384.79,507.63 L385.83,507.51 L386.87,507.38 L387.91,507.24 L388.95,507.08 L389.99,506.9 L391.03,506.71 L392.07,506.49 L393.11,506.26 L394.15,506 L395.19,505.73 L396.23,505.43 L397.27,505.1 L398.31,504.75 L399.35,504.38 L400.38,503.97 L401.42,503.54 L402.46,503.08 L403.5,502.59 L404.54,502.07 L405.58,501.51 L406.62,500.91 L407.66,500.28 L408.7,499.6 L409.74,498.87 L410.78,498.1 L411.82,497.28 L412.86,496.41 L413.9,495.48 L414.94,494.49 L415.98,493.44 L417.02,492.34 L418.06,491.16 L419.1,489.92 L420.14,488.61 L421.18,487.23 L422.22,485.77 L423.26,484.23 L424.3,482.62 L425.33,480.92 L426.37,479.13 L427.41,477.26 L428.18,475.82 L433.58,464.5 L439.27,444.03 L445.16,416.93" fill="none" stroke="#128a12" stroke-width="1.15" stroke-linejoin="round" stroke-linecap="butt"/>
<rect x="297.5" y="381.5" width="218.35" height="142.1" fill="none" stroke="#1a1a1a" stroke-width="0.6"/>
<rect x="450.6" y="384.5" width="61.7" height="60.4" rx="1.3" fill="#fff" fill-opacity="0.8" stroke="#ccc" stroke-width="0.6"/>
<circle cx="459.1" cy="391.6" r="1.3" fill="#ff4500"/>
<text x="470.8" y="393.2" font-size="6.35" fill="#1a1a1a">PBS</text>
<circle cx="459.1" cy="401.34" r="1.3" fill="#9acd32"/>
<text x="470.8" y="402.94" font-size="6.35" fill="#1a1a1a">H101</text>
<circle cx="459.1" cy="411.08" r="1.3" fill="#9426e2"/>
<text x="470.8" y="412.68" font-size="6.35" fill="#1a1a1a">Ad5.P19</text>
<circle cx="459.1" cy="420.82" r="1.3" fill="#ffa01a"/>
<text x="470.8" y="422.42" font-size="6.35" fill="#1a1a1a">Ad6d24.P19</text>
<circle cx="459.1" cy="430.56" r="1.3" fill="#3d67e6"/>
<text x="470.8" y="432.16" font-size="6.35" fill="#1a1a1a">Ad1d24.P19</text>
<circle cx="459.1" cy="440.3" r="1.3" fill="#128a12"/>
<text x="470.8" y="441.9" font-size="6.35" fill="#1a1a1a">Ad2d24.P19</text>
</svg>
</body></html>
